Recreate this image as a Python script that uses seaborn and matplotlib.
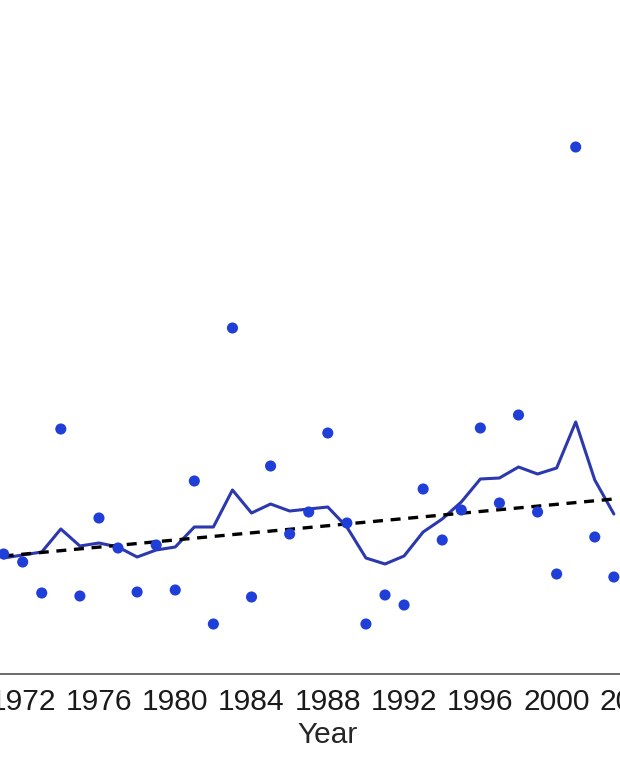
import numpy as np
import pandas as pd
import seaborn as sns
import matplotlib.pyplot as plt

# -------------------------------
# Data
# -------------------------------
years = list(range(1971, 2004))

# yearly observations (dots)
observed = [12.0, 11.2, 8.1, 24.5, 7.8, 15.6, 12.6, 8.2, 12.9, 8.4,
            19.3, 5.0, 34.6, 7.7, 20.8, 14.0, 16.2, 24.1, 15.1, 5.0,
            7.9, 6.9, 18.5, 13.4, 16.4, 24.6, 17.1, 25.9, 16.2, 10.0,
            52.7, 13.7, 9.7]

# smoothed series (solid line)
smoothed = [11.6, 11.9, 12.2, 14.5, 12.8, 13.1, 12.7, 11.7, 12.4, 12.7,
            14.7, 14.7, 18.4, 16.1, 17.0, 16.3, 16.5, 16.7, 14.7, 11.6,
            11.0, 11.8, 14.2, 15.5, 17.2, 19.5, 19.6, 20.7, 20.0, 20.6,
            25.2, 19.4, 16.0]

# linear trend (dashed line) end points
trend_years = [1971, 2003]
trend_values = [11.8, 17.5]

tick_years = list(range(1968, 2009, 4))

df = pd.DataFrame({'Year': years, 'Observed': observed, 'Smoothed': smoothed})
trend = pd.DataFrame({'Year': trend_years, 'Trend': trend_values})

# -------------------------------
# Style
# -------------------------------
sns.set_style("white")
plt.rcParams['font.family'] = ['Liberation Sans', 'DejaVu Sans']

fig = plt.figure(figsize=(6.2, 7.75), dpi=100)
# axes deliberately wider than the figure: the picture is a crop
ax = fig.add_axes([-53.6 / 620, 101 / 775, 762.8 / 620, 600 / 775])

sns.scatterplot(data=df, x='Year', y='Observed', ax=ax, color='#1f3fd8',
                s=64, edgecolor='none', zorder=3)
sns.lineplot(data=df, x='Year', y='Smoothed', ax=ax, color='#2b38ae',
             linewidth=2.2, zorder=2)
sns.lineplot(data=trend, x='Year', y='Trend', ax=ax, color='black',
             linewidth=2.4, dashes=False, zorder=2)
ax.lines[-1].set_dashes([3.0, 2.3])

ax.set_xlim(1968, 2008)
ax.set_ylim(0, 60)
ax.set_xticks(tick_years)
ax.set_xticklabels([str(y) for y in tick_years])
ax.set_yticks([])
ax.set_ylabel('')
ax.set_xlabel('Year', fontsize=21.5, labelpad=4)
ax.tick_params(axis='x', direction='in', length=6, width=0.8,
               labelsize=21.6, pad=10, colors='#1a1a1a')

for side in ['top', 'left', 'right']:
    ax.spines[side].set_visible(False)
ax.spines['bottom'].set_color('#444444')
ax.spines['bottom'].set_linewidth(1.1)

fig.savefig('out.png', dpi=100)
plt.close(fig)
